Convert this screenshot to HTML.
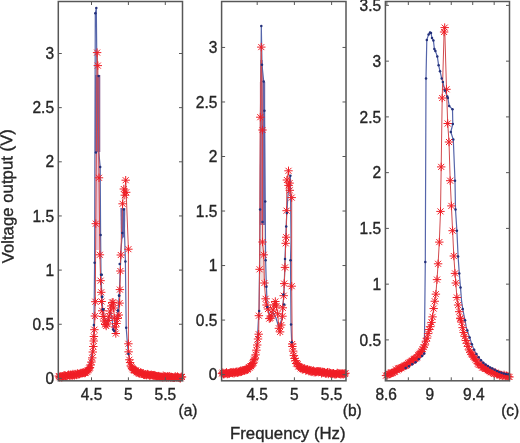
<!DOCTYPE html>
<html><head><meta charset="utf-8"><title>Voltage output vs frequency</title>
<style>
html,body{margin:0;padding:0;background:#fff;}
svg{display:block;}
text{font-family:"Liberation Sans",Arial,Helvetica,sans-serif;fill:#262626;stroke:#262626;stroke-width:0.35px;}
.t{font-size:15.5px;}
.al{font-size:16.8px;}
</style></head><body>
<svg width="520" height="443" viewBox="0 0 520 443">
<rect width="520" height="443" fill="#fff"/>
<g>
<g class="t">
<polygon fill="#6a68b0" points="120.4,208 125.3,208 125,236 120.9,240"/>
<polygon fill="#8e5e90" points="95,75 100.3,75 100.3,152 95,152"/>
<polygon fill="#ecc6d4" points="95.6,152 99.9,152 100.6,250 95.2,250"/>
<polyline fill="none" stroke="#5565aa" stroke-width="1.2" stroke-linejoin="round" points="58.8,376.5 59.79,376.43 60.78,376.35 61.77,376.25 62.77,376.15 63.76,376.03 64.75,375.91 65.74,375.78 66.73,375.64 67.72,375.49 68.71,375.34 69.71,375.18 70.7,375.02 71.69,374.85 72.68,374.69 73.67,374.53 74.66,374.37 75.65,374.21 76.65,374.05 77.64,373.87 78.63,373.66 79.62,373.44 80.61,373.18 81.6,372.88 82.59,372.54 83.59,372.15 84.58,371.71 85.57,371.09 86.56,369.86 87.55,368.06 88.54,365.79 89.53,363.18 90.53,360.28 91.52,356 92.51,350.9 93.5,345 94,325 94.6,262.7 95.3,13.3 96.3,8 96.8,60 97.6,100 98.8,152 100.2,166.9 100.6,235 101,274.7 101.9,296.9 102.7,309.2 104.5,318 106.5,322 108.5,318 110.5,312 112,318 113.1,329.6 115,325 118.1,310.8 119.2,295.8 121,250 122.3,233.1 123.8,209.6 125.4,261.5 126.2,327.7 127.5,345 128.4,354 128.6,354 129.61,360.52 130.62,365.13 131.62,366.61 132.63,367.72 133.64,368.6 134.65,369.28 135.65,369.82 136.66,370.24 137.67,370.59 138.68,370.91 139.68,371.2 140.69,371.46 141.7,371.7 142.71,371.92 143.71,372.12 144.72,372.3 145.73,372.46 146.74,372.61 147.74,372.74 148.75,372.87 149.76,372.98 150.77,373.08 151.77,373.18 152.78,373.28 153.79,373.38 154.8,373.48 155.8,373.57 156.81,373.66 157.82,373.76 158.83,373.85 159.83,373.93 160.84,374.02 161.85,374.1 162.86,374.18 163.86,374.26 164.87,374.33 165.88,374.4 166.89,374.47 167.89,374.53 168.9,374.59 169.91,374.65 170.92,374.7 171.92,374.75 172.93,374.8 173.94,374.84 174.95,374.88 175.95,374.91 176.96,374.94 177.97,374.96 178.98,374.98 179.98,374.99 180.99,375 182,375"/>
<polyline fill="none" stroke="#d24a4e" stroke-width="1" stroke-linejoin="round" points="58.8,376.04 59.54,377.21 60.28,376.5 61.03,376.92 61.77,377.29 62.51,376.4 63.25,376.24 64,375.36 64.74,375.62 65.48,375.93 66.22,376.16 66.96,376.28 67.71,375.42 68.45,374.74 69.19,375.04 69.93,376.05 70.68,374.69 71.42,375 72.16,375.75 72.9,374 73.64,374.92 74.39,375.43 75.13,374.01 75.87,374.46 76.61,374.98 77.36,373.45 78.1,374.01 78.84,374.28 79.58,373.99 80.32,373.48 81.07,372.86 81.81,373.22 82.55,372.85 83.29,372.87 84.04,372.47 84.78,373.09 85.52,372.68 86.26,371.51 87,371.53 87.75,370.42 88.49,369.97 89.23,368.61 89.97,367.56 90.72,365.02 91.46,362.01 92.2,357.89 92.8,352 93.3,346.5 93.7,341 93.9,336.5 94.4,329.7 94.9,316 95.3,301.7 95.8,223.7 97.1,52.6 97.8,65.6 99,177.8 99.9,254.8 100.6,280.7 101.2,292.3 101.6,301.5 102.2,310.8 103.2,316.5 104.2,321 105.2,324.5 106.2,326 107.2,324 108.2,320.5 109.2,316 110.2,311 111.2,306 112.2,302.5 113.1,302.3 113.7,308 114.3,318 115,327 115.8,333.5 116.5,323.5 117.6,318.5 118.8,315 119.6,303.1 119.9,289.6 120.4,271 120.8,255 122.6,203.8 123.8,189 124.8,195.2 125.7,180.2 126.2,192.3 128.4,249.2 128.4,343.8 128.6,351.84 129.35,359.77 130.1,362.55 130.86,366.06 131.61,367.05 132.36,368.28 133.11,369.61 133.86,370.13 134.62,370.5 135.37,370.22 136.12,370.78 136.87,372.23 137.63,372.2 138.38,372.79 139.13,373.52 139.88,373.26 140.63,372.35 141.39,373.02 142.14,373.72 142.89,373.26 143.64,374.75 144.39,374.89 145.15,374.89 145.9,374.38 146.65,375.21 147.4,374.08 148.15,374.55 148.91,374.96 149.66,375.58 150.41,375.23 151.16,374.71 151.92,375.18 152.67,375.24 153.42,375.29 154.17,375.13 154.92,375.66 155.68,375.8 156.43,376.47 157.18,376.58 157.93,376.16 158.68,376.11 159.44,376.75 160.19,377.01 160.94,376.69 161.69,376.98 162.45,377.29 163.2,375.73 163.95,377.29 164.7,376.27 165.45,376.68 166.21,377.31 166.96,377.21 167.71,376.23 168.46,377.2 169.21,376.18 169.97,376.74 170.72,377.6 171.47,376.95 172.22,377.29 172.97,377.56 173.73,377.77 174.48,377.69 175.23,376.37 175.98,377.15 176.74,377.25 177.49,376.55 178.24,377.45 178.99,377.6 179.74,378.02 180.5,378.25 181.25,376.81 182,377.01"/>
<path fill="none" stroke="#f01e26" stroke-width="1" d="M54.6 376.04h8.4M58.8 371.84v8.4M55.8 373.04l6 6M55.8 379.04l6 -6M55.34 377.21h8.4M59.54 373.01v8.4M56.54 374.21l6 6M56.54 380.21l6 -6M56.08 376.5h8.4M60.28 372.3v8.4M57.28 373.5l6 6M57.28 379.5l6 -6M56.83 376.92h8.4M61.03 372.72v8.4M58.03 373.92l6 6M58.03 379.92l6 -6M57.57 377.29h8.4M61.77 373.09v8.4M58.77 374.29l6 6M58.77 380.29l6 -6M58.31 376.4h8.4M62.51 372.2v8.4M59.51 373.4l6 6M59.51 379.4l6 -6M59.05 376.24h8.4M63.25 372.04v8.4M60.25 373.24l6 6M60.25 379.24l6 -6M59.8 375.36h8.4M64 371.16v8.4M61 372.36l6 6M61 378.36l6 -6M60.54 375.62h8.4M64.74 371.42v8.4M61.74 372.62l6 6M61.74 378.62l6 -6M61.28 375.93h8.4M65.48 371.73v8.4M62.48 372.93l6 6M62.48 378.93l6 -6M62.02 376.16h8.4M66.22 371.96v8.4M63.22 373.16l6 6M63.22 379.16l6 -6M62.76 376.28h8.4M66.96 372.08v8.4M63.96 373.28l6 6M63.96 379.28l6 -6M63.51 375.42h8.4M67.71 371.22v8.4M64.71 372.42l6 6M64.71 378.42l6 -6M64.25 374.74h8.4M68.45 370.54v8.4M65.45 371.74l6 6M65.45 377.74l6 -6M64.99 375.04h8.4M69.19 370.84v8.4M66.19 372.04l6 6M66.19 378.04l6 -6M65.73 376.05h8.4M69.93 371.85v8.4M66.93 373.05l6 6M66.93 379.05l6 -6M66.48 374.69h8.4M70.68 370.49v8.4M67.68 371.69l6 6M67.68 377.69l6 -6M67.22 375h8.4M71.42 370.8v8.4M68.42 372l6 6M68.42 378l6 -6M67.96 375.75h8.4M72.16 371.55v8.4M69.16 372.75l6 6M69.16 378.75l6 -6M68.7 374h8.4M72.9 369.8v8.4M69.9 371l6 6M69.9 377l6 -6M69.44 374.92h8.4M73.64 370.72v8.4M70.64 371.92l6 6M70.64 377.92l6 -6M70.19 375.43h8.4M74.39 371.23v8.4M71.39 372.43l6 6M71.39 378.43l6 -6M70.93 374.01h8.4M75.13 369.81v8.4M72.13 371.01l6 6M72.13 377.01l6 -6M71.67 374.46h8.4M75.87 370.26v8.4M72.87 371.46l6 6M72.87 377.46l6 -6M72.41 374.98h8.4M76.61 370.78v8.4M73.61 371.98l6 6M73.61 377.98l6 -6M73.16 373.45h8.4M77.36 369.25v8.4M74.36 370.45l6 6M74.36 376.45l6 -6M73.9 374.01h8.4M78.1 369.81v8.4M75.1 371.01l6 6M75.1 377.01l6 -6M74.64 374.28h8.4M78.84 370.08v8.4M75.84 371.28l6 6M75.84 377.28l6 -6M75.38 373.99h8.4M79.58 369.79v8.4M76.58 370.99l6 6M76.58 376.99l6 -6M76.12 373.48h8.4M80.32 369.28v8.4M77.32 370.48l6 6M77.32 376.48l6 -6M76.87 372.86h8.4M81.07 368.66v8.4M78.07 369.86l6 6M78.07 375.86l6 -6M77.61 373.22h8.4M81.81 369.02v8.4M78.81 370.22l6 6M78.81 376.22l6 -6M78.35 372.85h8.4M82.55 368.65v8.4M79.55 369.85l6 6M79.55 375.85l6 -6M79.09 372.87h8.4M83.29 368.67v8.4M80.29 369.87l6 6M80.29 375.87l6 -6M79.84 372.47h8.4M84.04 368.27v8.4M81.04 369.47l6 6M81.04 375.47l6 -6M80.58 373.09h8.4M84.78 368.89v8.4M81.78 370.09l6 6M81.78 376.09l6 -6M81.32 372.68h8.4M85.52 368.48v8.4M82.52 369.68l6 6M82.52 375.68l6 -6M82.06 371.51h8.4M86.26 367.31v8.4M83.26 368.51l6 6M83.26 374.51l6 -6M82.8 371.53h8.4M87 367.33v8.4M84 368.53l6 6M84 374.53l6 -6M83.55 370.42h8.4M87.75 366.22v8.4M84.75 367.42l6 6M84.75 373.42l6 -6M84.29 369.97h8.4M88.49 365.77v8.4M85.49 366.97l6 6M85.49 372.97l6 -6M85.03 368.61h8.4M89.23 364.41v8.4M86.23 365.61l6 6M86.23 371.61l6 -6M85.77 367.56h8.4M89.97 363.36v8.4M86.97 364.56l6 6M86.97 370.56l6 -6M86.52 365.02h8.4M90.72 360.82v8.4M87.72 362.02l6 6M87.72 368.02l6 -6M87.26 362.01h8.4M91.46 357.81v8.4M88.46 359.01l6 6M88.46 365.01l6 -6M88 357.89h8.4M92.2 353.69v8.4M89.2 354.89l6 6M89.2 360.89l6 -6M88.6 352h8.4M92.8 347.8v8.4M89.8 349l6 6M89.8 355l6 -6M89.1 346.5h8.4M93.3 342.3v8.4M90.3 343.5l6 6M90.3 349.5l6 -6M89.5 341h8.4M93.7 336.8v8.4M90.7 338l6 6M90.7 344l6 -6M89.7 336.5h8.4M93.9 332.3v8.4M90.9 333.5l6 6M90.9 339.5l6 -6M90.2 329.7h8.4M94.4 325.5v8.4M91.4 326.7l6 6M91.4 332.7l6 -6M90.7 316h8.4M94.9 311.8v8.4M91.9 313l6 6M91.9 319l6 -6M91.1 301.7h8.4M95.3 297.5v8.4M92.3 298.7l6 6M92.3 304.7l6 -6M91.6 223.7h8.4M95.8 219.5v8.4M92.8 220.7l6 6M92.8 226.7l6 -6M92.9 52.6h8.4M97.1 48.4v8.4M94.1 49.6l6 6M94.1 55.6l6 -6M93.6 65.6h8.4M97.8 61.4v8.4M94.8 62.6l6 6M94.8 68.6l6 -6M94.8 177.8h8.4M99 173.6v8.4M96 174.8l6 6M96 180.8l6 -6M95.7 254.8h8.4M99.9 250.6v8.4M96.9 251.8l6 6M96.9 257.8l6 -6M96.4 280.7h8.4M100.6 276.5v8.4M97.6 277.7l6 6M97.6 283.7l6 -6M97 292.3h8.4M101.2 288.1v8.4M98.2 289.3l6 6M98.2 295.3l6 -6M97.4 301.5h8.4M101.6 297.3v8.4M98.6 298.5l6 6M98.6 304.5l6 -6M98 310.8h8.4M102.2 306.6v8.4M99.2 307.8l6 6M99.2 313.8l6 -6M99 316.5h8.4M103.2 312.3v8.4M100.2 313.5l6 6M100.2 319.5l6 -6M100 321h8.4M104.2 316.8v8.4M101.2 318l6 6M101.2 324l6 -6M101 324.5h8.4M105.2 320.3v8.4M102.2 321.5l6 6M102.2 327.5l6 -6M102 326h8.4M106.2 321.8v8.4M103.2 323l6 6M103.2 329l6 -6M103 324h8.4M107.2 319.8v8.4M104.2 321l6 6M104.2 327l6 -6M104 320.5h8.4M108.2 316.3v8.4M105.2 317.5l6 6M105.2 323.5l6 -6M105 316h8.4M109.2 311.8v8.4M106.2 313l6 6M106.2 319l6 -6M106 311h8.4M110.2 306.8v8.4M107.2 308l6 6M107.2 314l6 -6M107 306h8.4M111.2 301.8v8.4M108.2 303l6 6M108.2 309l6 -6M108 302.5h8.4M112.2 298.3v8.4M109.2 299.5l6 6M109.2 305.5l6 -6M108.9 302.3h8.4M113.1 298.1v8.4M110.1 299.3l6 6M110.1 305.3l6 -6M109.5 308h8.4M113.7 303.8v8.4M110.7 305l6 6M110.7 311l6 -6M110.1 318h8.4M114.3 313.8v8.4M111.3 315l6 6M111.3 321l6 -6M110.8 327h8.4M115 322.8v8.4M112 324l6 6M112 330l6 -6M111.6 333.5h8.4M115.8 329.3v8.4M112.8 330.5l6 6M112.8 336.5l6 -6M112.3 323.5h8.4M116.5 319.3v8.4M113.5 320.5l6 6M113.5 326.5l6 -6M113.4 318.5h8.4M117.6 314.3v8.4M114.6 315.5l6 6M114.6 321.5l6 -6M114.6 315h8.4M118.8 310.8v8.4M115.8 312l6 6M115.8 318l6 -6M115.4 303.1h8.4M119.6 298.9v8.4M116.6 300.1l6 6M116.6 306.1l6 -6M115.7 289.6h8.4M119.9 285.4v8.4M116.9 286.6l6 6M116.9 292.6l6 -6M116.2 271h8.4M120.4 266.8v8.4M117.4 268l6 6M117.4 274l6 -6M116.6 255h8.4M120.8 250.8v8.4M117.8 252l6 6M117.8 258l6 -6M118.4 203.8h8.4M122.6 199.6v8.4M119.6 200.8l6 6M119.6 206.8l6 -6M119.6 189h8.4M123.8 184.8v8.4M120.8 186l6 6M120.8 192l6 -6M120.6 195.2h8.4M124.8 191v8.4M121.8 192.2l6 6M121.8 198.2l6 -6M121.5 180.2h8.4M125.7 176v8.4M122.7 177.2l6 6M122.7 183.2l6 -6M122 192.3h8.4M126.2 188.1v8.4M123.2 189.3l6 6M123.2 195.3l6 -6M124.2 249.2h8.4M128.4 245v8.4M125.4 246.2l6 6M125.4 252.2l6 -6M124.2 343.8h8.4M128.4 339.6v8.4M125.4 340.8l6 6M125.4 346.8l6 -6M124.4 351.84h8.4M128.6 347.64v8.4M125.6 348.84l6 6M125.6 354.84l6 -6M125.15 359.77h8.4M129.35 355.57v8.4M126.35 356.77l6 6M126.35 362.77l6 -6M125.9 362.55h8.4M130.1 358.35v8.4M127.1 359.55l6 6M127.1 365.55l6 -6M126.66 366.06h8.4M130.86 361.86v8.4M127.86 363.06l6 6M127.86 369.06l6 -6M127.41 367.05h8.4M131.61 362.85v8.4M128.61 364.05l6 6M128.61 370.05l6 -6M128.16 368.28h8.4M132.36 364.08v8.4M129.36 365.28l6 6M129.36 371.28l6 -6M128.91 369.61h8.4M133.11 365.41v8.4M130.11 366.61l6 6M130.11 372.61l6 -6M129.66 370.13h8.4M133.86 365.93v8.4M130.86 367.13l6 6M130.86 373.13l6 -6M130.42 370.5h8.4M134.62 366.3v8.4M131.62 367.5l6 6M131.62 373.5l6 -6M131.17 370.22h8.4M135.37 366.02v8.4M132.37 367.22l6 6M132.37 373.22l6 -6M131.92 370.78h8.4M136.12 366.58v8.4M133.12 367.78l6 6M133.12 373.78l6 -6M132.67 372.23h8.4M136.87 368.03v8.4M133.87 369.23l6 6M133.87 375.23l6 -6M133.43 372.2h8.4M137.63 368v8.4M134.63 369.2l6 6M134.63 375.2l6 -6M134.18 372.79h8.4M138.38 368.59v8.4M135.38 369.79l6 6M135.38 375.79l6 -6M134.93 373.52h8.4M139.13 369.32v8.4M136.13 370.52l6 6M136.13 376.52l6 -6M135.68 373.26h8.4M139.88 369.06v8.4M136.88 370.26l6 6M136.88 376.26l6 -6M136.43 372.35h8.4M140.63 368.15v8.4M137.63 369.35l6 6M137.63 375.35l6 -6M137.19 373.02h8.4M141.39 368.82v8.4M138.39 370.02l6 6M138.39 376.02l6 -6M137.94 373.72h8.4M142.14 369.52v8.4M139.14 370.72l6 6M139.14 376.72l6 -6M138.69 373.26h8.4M142.89 369.06v8.4M139.89 370.26l6 6M139.89 376.26l6 -6M139.44 374.75h8.4M143.64 370.55v8.4M140.64 371.75l6 6M140.64 377.75l6 -6M140.19 374.89h8.4M144.39 370.69v8.4M141.39 371.89l6 6M141.39 377.89l6 -6M140.95 374.89h8.4M145.15 370.69v8.4M142.15 371.89l6 6M142.15 377.89l6 -6M141.7 374.38h8.4M145.9 370.18v8.4M142.9 371.38l6 6M142.9 377.38l6 -6M142.45 375.21h8.4M146.65 371.01v8.4M143.65 372.21l6 6M143.65 378.21l6 -6M143.2 374.08h8.4M147.4 369.88v8.4M144.4 371.08l6 6M144.4 377.08l6 -6M143.95 374.55h8.4M148.15 370.35v8.4M145.15 371.55l6 6M145.15 377.55l6 -6M144.71 374.96h8.4M148.91 370.76v8.4M145.91 371.96l6 6M145.91 377.96l6 -6M145.46 375.58h8.4M149.66 371.38v8.4M146.66 372.58l6 6M146.66 378.58l6 -6M146.21 375.23h8.4M150.41 371.03v8.4M147.41 372.23l6 6M147.41 378.23l6 -6M146.96 374.71h8.4M151.16 370.51v8.4M148.16 371.71l6 6M148.16 377.71l6 -6M147.72 375.18h8.4M151.92 370.98v8.4M148.92 372.18l6 6M148.92 378.18l6 -6M148.47 375.24h8.4M152.67 371.04v8.4M149.67 372.24l6 6M149.67 378.24l6 -6M149.22 375.29h8.4M153.42 371.09v8.4M150.42 372.29l6 6M150.42 378.29l6 -6M149.97 375.13h8.4M154.17 370.93v8.4M151.17 372.13l6 6M151.17 378.13l6 -6M150.72 375.66h8.4M154.92 371.46v8.4M151.92 372.66l6 6M151.92 378.66l6 -6M151.48 375.8h8.4M155.68 371.6v8.4M152.68 372.8l6 6M152.68 378.8l6 -6M152.23 376.47h8.4M156.43 372.27v8.4M153.43 373.47l6 6M153.43 379.47l6 -6M152.98 376.58h8.4M157.18 372.38v8.4M154.18 373.58l6 6M154.18 379.58l6 -6M153.73 376.16h8.4M157.93 371.96v8.4M154.93 373.16l6 6M154.93 379.16l6 -6M154.48 376.11h8.4M158.68 371.91v8.4M155.68 373.11l6 6M155.68 379.11l6 -6M155.24 376.75h8.4M159.44 372.55v8.4M156.44 373.75l6 6M156.44 379.75l6 -6M155.99 377.01h8.4M160.19 372.81v8.4M157.19 374.01l6 6M157.19 380.01l6 -6M156.74 376.69h8.4M160.94 372.49v8.4M157.94 373.69l6 6M157.94 379.69l6 -6M157.49 376.98h8.4M161.69 372.78v8.4M158.69 373.98l6 6M158.69 379.98l6 -6M158.25 377.29h8.4M162.45 373.09v8.4M159.45 374.29l6 6M159.45 380.29l6 -6M159 375.73h8.4M163.2 371.53v8.4M160.2 372.73l6 6M160.2 378.73l6 -6M159.75 377.29h8.4M163.95 373.09v8.4M160.95 374.29l6 6M160.95 380.29l6 -6M160.5 376.27h8.4M164.7 372.07v8.4M161.7 373.27l6 6M161.7 379.27l6 -6M161.25 376.68h8.4M165.45 372.48v8.4M162.45 373.68l6 6M162.45 379.68l6 -6M162.01 377.31h8.4M166.21 373.11v8.4M163.21 374.31l6 6M163.21 380.31l6 -6M162.76 377.21h8.4M166.96 373.01v8.4M163.96 374.21l6 6M163.96 380.21l6 -6M163.51 376.23h8.4M167.71 372.03v8.4M164.71 373.23l6 6M164.71 379.23l6 -6M164.26 377.2h8.4M168.46 373v8.4M165.46 374.2l6 6M165.46 380.2l6 -6M165.01 376.18h8.4M169.21 371.98v8.4M166.21 373.18l6 6M166.21 379.18l6 -6M165.77 376.74h8.4M169.97 372.54v8.4M166.97 373.74l6 6M166.97 379.74l6 -6M166.52 377.6h8.4M170.72 373.4v8.4M167.72 374.6l6 6M167.72 380.6l6 -6M167.27 376.95h8.4M171.47 372.75v8.4M168.47 373.95l6 6M168.47 379.95l6 -6M168.02 377.29h8.4M172.22 373.09v8.4M169.22 374.29l6 6M169.22 380.29l6 -6M168.77 377.56h8.4M172.97 373.36v8.4M169.97 374.56l6 6M169.97 380.56l6 -6M169.53 377.77h8.4M173.73 373.57v8.4M170.73 374.77l6 6M170.73 380.77l6 -6M170.28 377.69h8.4M174.48 373.49v8.4M171.48 374.69l6 6M171.48 380.69l6 -6M171.03 376.37h8.4M175.23 372.17v8.4M172.23 373.37l6 6M172.23 379.37l6 -6M171.78 377.15h8.4M175.98 372.95v8.4M172.98 374.15l6 6M172.98 380.15l6 -6M172.54 377.25h8.4M176.74 373.05v8.4M173.74 374.25l6 6M173.74 380.25l6 -6M173.29 376.55h8.4M177.49 372.35v8.4M174.49 373.55l6 6M174.49 379.55l6 -6M174.04 377.45h8.4M178.24 373.25v8.4M175.24 374.45l6 6M175.24 380.45l6 -6M174.79 377.6h8.4M178.99 373.4v8.4M175.99 374.6l6 6M175.99 380.6l6 -6M175.54 378.02h8.4M179.74 373.82v8.4M176.74 375.02l6 6M176.74 381.02l6 -6M176.3 378.25h8.4M180.5 374.05v8.4M177.5 375.25l6 6M177.5 381.25l6 -6M177.05 376.81h8.4M181.25 372.61v8.4M178.25 373.81l6 6M178.25 379.81l6 -6M177.8 377.01h8.4M182 372.81v8.4M179 374.01l6 6M179 380.01l6 -6"/>
<g fill="#23307a"><circle cx="95.3" cy="13.3" r="1.25"/><circle cx="96.3" cy="8" r="1.25"/><circle cx="98.6" cy="76.1" r="1.25"/><circle cx="100.2" cy="166.9" r="1.25"/><circle cx="95.9" cy="152.6" r="1.25"/><circle cx="94.6" cy="262.7" r="1.25"/><circle cx="93.9" cy="324.9" r="1.25"/><circle cx="119.7" cy="263.9" r="1.25"/><circle cx="119" cy="295.5" r="1.25"/><circle cx="117.8" cy="310.6" r="1.25"/><circle cx="101.8" cy="274.7" r="1.25"/><circle cx="102.3" cy="296.7" r="1.25"/><circle cx="103.5" cy="309.4" r="1.25"/><circle cx="114.2" cy="330.9" r="1.25"/><circle cx="100.6" cy="235" r="1.25"/><circle cx="101" cy="274.7" r="1.25"/><circle cx="101.9" cy="296.9" r="1.25"/><circle cx="102.7" cy="309.2" r="1.25"/><circle cx="113.1" cy="329.6" r="1.25"/><circle cx="118.1" cy="310.8" r="1.25"/><circle cx="119.2" cy="295.8" r="1.25"/><circle cx="122.3" cy="233.1" r="1.25"/><circle cx="123.8" cy="209.6" r="1.25"/><circle cx="125.4" cy="261.5" r="1.25"/><circle cx="126.2" cy="327.7" r="1.25"/><circle cx="128.4" cy="354" r="1.25"/></g>
<rect x="58.3" y="1.5" width="124.2" height="379.3" fill="none" stroke="#575757" stroke-width="1.5"/>
<path fill="none" stroke="#575757" stroke-width="1" d="M58.3 378.4h3.5M182.5 378.4h-3.5M58.3 324.25h3.5M182.5 324.25h-3.5M58.3 270.1h3.5M182.5 270.1h-3.5M58.3 215.95h3.5M182.5 215.95h-3.5M58.3 161.8h3.5M182.5 161.8h-3.5M58.3 107.65h3.5M182.5 107.65h-3.5M58.3 53.5h3.5M182.5 53.5h-3.5M91.5 380.8v-3.5M91.5 1.5v3.5M128.4 380.8v-3.5M128.4 1.5v3.5M165.3 380.8v-3.5M165.3 1.5v3.5"/>
<text transform="translate(54,384) scale(1,1.02)" text-anchor="end">0</text>
<text transform="translate(54,329.85) scale(1,1.02)" text-anchor="end">0.5</text>
<text transform="translate(54,275.7) scale(1,1.02)" text-anchor="end">1</text>
<text transform="translate(54,221.55) scale(1,1.02)" text-anchor="end">1.5</text>
<text transform="translate(54,167.4) scale(1,1.02)" text-anchor="end">2</text>
<text transform="translate(54,113.25) scale(1,1.02)" text-anchor="end">2.5</text>
<text transform="translate(54,59.1) scale(1,1.02)" text-anchor="end">3</text>
<text transform="translate(91.5,399.9) scale(1,1.02)" text-anchor="middle">4.5</text>
<text transform="translate(128.4,399.9) scale(1,1.02)" text-anchor="middle">5</text>
<text transform="translate(165.3,399.9) scale(1,1.02)" text-anchor="middle">5.5</text>
<text transform="translate(178.6,416) scale(1,1.04)">(a)</text>
<polygon fill="#c46a8a" points="259.9,82 262.6,82 262.6,225 259.7,225"/>
<polygon fill="#7a6aa8" points="262.6,82 265.2,82 265.2,225 262.6,225"/>
<polygon fill="#b05a80" points="260.3,60 262.7,60 262.7,82 260.3,82"/>
<polygon fill="#f3dcd8" points="260.6,225 264.6,225 265,280 260.2,280"/>
<polyline fill="none" stroke="#5565aa" stroke-width="1.2" stroke-linejoin="round" points="222,372.5 223.01,372.49 224.02,372.47 225.03,372.44 226.04,372.39 227.06,372.33 228.07,372.25 229.08,372.17 230.09,372.07 231.1,371.96 232.11,371.84 233.12,371.7 234.13,371.56 235.14,371.4 236.16,371.24 237.17,371.07 238.18,370.88 239.19,370.69 240.2,370.49 241.21,370.28 242.22,370.06 243.23,369.82 244.24,369.53 245.26,369.16 246.27,368.72 247.28,368.19 248.29,367.56 249.3,366.83 250.31,365.99 251.32,365.02 252.33,363.93 253.34,362.52 254.36,360.05 255.37,356.31 256.38,351.13 257.39,339.14 258.4,320 259.1,310.9 260.1,209.5 261.3,26.1 262,64.7 263.7,81.6 264.4,110.7 265.2,201.5 265.6,260.2 266.4,286.7 267.3,307 270,316 273,312 276,318 279,328 282,318 283,305 284,294 285,259 286.2,226.4 286.8,213 288,195 290.4,175.8 291,240 290.5,260.2 291,324.6 291.7,342.3 293.4,352.4 294.4,357.3 295.4,361.2 296.41,362.74 297.41,363.81 298.41,364.73 299.41,365.5 300.41,366.14 301.42,366.67 302.42,367.11 303.42,367.49 304.42,367.8 305.42,368.08 306.42,368.34 307.43,368.59 308.43,368.82 309.43,369.05 310.43,369.26 311.43,369.47 312.44,369.66 313.44,369.84 314.44,370.02 315.44,370.18 316.44,370.34 317.45,370.48 318.45,370.62 319.45,370.75 320.45,370.88 321.45,370.99 322.46,371.1 323.46,371.2 324.46,371.3 325.46,371.39 326.46,371.47 327.47,371.55 328.47,371.62 329.47,371.69 330.47,371.76 331.47,371.82 332.48,371.89 333.48,371.95 334.48,372.01 335.48,372.07 336.48,372.12 337.48,372.17 338.49,372.22 339.49,372.26 340.49,372.3 341.49,372.33 342.49,372.36 343.5,372.38 344.5,372.39 345.5,372.4"/>
<polyline fill="none" stroke="#d24a4e" stroke-width="1" stroke-linejoin="round" points="222,373.58 222.75,372.66 223.5,374.14 224.24,374.09 224.99,373.12 225.74,373.4 226.49,372.37 227.23,374.05 227.98,373.7 228.73,373.33 229.48,373.51 230.23,372.44 230.97,372.6 231.72,372.44 232.47,373.01 233.22,372.05 233.97,373.42 234.71,372.55 235.46,372.4 236.21,371.66 236.96,372.56 237.7,372.64 238.45,372.13 239.2,371.24 239.95,372.03 240.7,370.67 241.44,371.69 242.19,371.03 242.94,370.29 243.69,370.46 244.43,370.41 245.18,369.46 245.93,370.2 246.68,369.09 247.43,369.54 248.17,369.01 248.92,367.19 249.67,367.56 250.42,366.21 251.17,366.14 251.91,364.77 252.66,363.49 253.41,362.9 254.16,359.59 254.9,358.26 255.65,354.83 256.4,350.16 257.2,345 258,339 258.7,334.2 258.9,315.7 259.6,269.3 260.3,117.2 261.3,47.1 262.5,130 262.5,242 263.7,254.8 264.4,283 265.6,298.8 266.5,305 268,309 269.3,318.6 270.5,318 271.7,316.2 273,310 274.2,305 275.3,301.5 276.5,306 277.7,313.8 278.9,328.3 280.1,331.9 281.3,325 282.5,316.2 282.8,307.8 283.7,295.7 284.2,283.6 285,267.4 285.7,243.3 286.2,237.2 286.6,210.7 286.9,180 288.5,170.8 289.6,183.1 288.5,185.4 289.8,190.3 291.7,197.6 291.7,286.2 292.2,344 292.4,346.46 293.15,351.12 293.9,355.59 294.64,358.48 295.39,360.69 296.14,363.53 296.89,363.26 297.64,364.23 298.38,366.34 299.13,366.42 299.88,366.97 300.63,368.36 301.37,367.77 302.12,369.14 302.87,369 303.62,368.71 304.37,368.47 305.11,369.03 305.86,370.54 306.61,369.73 307.36,369.49 308.11,369.92 308.85,371.18 309.6,370.03 310.35,371.29 311.1,370.29 311.85,371.92 312.59,371.29 313.34,370.54 314.09,372.27 314.84,371.36 315.58,372.15 316.33,371.88 317.08,371.21 317.83,371.33 318.58,371.51 319.32,371.62 320.07,371.52 320.82,371.6 321.57,373.3 322.32,371.84 323.06,372.67 323.81,372.05 324.56,372.29 325.31,373.35 326.05,373.73 326.8,372.95 327.55,372.17 328.3,374.01 329.05,372.35 329.79,373.01 330.54,373.33 331.29,374.01 332.04,373.93 332.79,373.59 333.53,373.25 334.28,374.08 335.03,374.18 335.78,374.23 336.53,373.99 337.27,372.91 338.02,373.31 338.77,373.68 339.52,373.74 340.26,374.36 341.01,373.32 341.76,374.11 342.51,373.61 343.26,374.35 344,373.33 344.75,373.85 345.5,373.19"/>
<path fill="none" stroke="#f01e26" stroke-width="1" d="M217.8 373.58h8.4M222 369.38v8.4M219 370.58l6 6M219 376.58l6 -6M218.55 372.66h8.4M222.75 368.46v8.4M219.75 369.66l6 6M219.75 375.66l6 -6M219.3 374.14h8.4M223.5 369.94v8.4M220.5 371.14l6 6M220.5 377.14l6 -6M220.04 374.09h8.4M224.24 369.89v8.4M221.24 371.09l6 6M221.24 377.09l6 -6M220.79 373.12h8.4M224.99 368.92v8.4M221.99 370.12l6 6M221.99 376.12l6 -6M221.54 373.4h8.4M225.74 369.2v8.4M222.74 370.4l6 6M222.74 376.4l6 -6M222.29 372.37h8.4M226.49 368.17v8.4M223.49 369.37l6 6M223.49 375.37l6 -6M223.03 374.05h8.4M227.23 369.85v8.4M224.23 371.05l6 6M224.23 377.05l6 -6M223.78 373.7h8.4M227.98 369.5v8.4M224.98 370.7l6 6M224.98 376.7l6 -6M224.53 373.33h8.4M228.73 369.13v8.4M225.73 370.33l6 6M225.73 376.33l6 -6M225.28 373.51h8.4M229.48 369.31v8.4M226.48 370.51l6 6M226.48 376.51l6 -6M226.03 372.44h8.4M230.23 368.24v8.4M227.23 369.44l6 6M227.23 375.44l6 -6M226.77 372.6h8.4M230.97 368.4v8.4M227.97 369.6l6 6M227.97 375.6l6 -6M227.52 372.44h8.4M231.72 368.24v8.4M228.72 369.44l6 6M228.72 375.44l6 -6M228.27 373.01h8.4M232.47 368.81v8.4M229.47 370.01l6 6M229.47 376.01l6 -6M229.02 372.05h8.4M233.22 367.85v8.4M230.22 369.05l6 6M230.22 375.05l6 -6M229.77 373.42h8.4M233.97 369.22v8.4M230.97 370.42l6 6M230.97 376.42l6 -6M230.51 372.55h8.4M234.71 368.35v8.4M231.71 369.55l6 6M231.71 375.55l6 -6M231.26 372.4h8.4M235.46 368.2v8.4M232.46 369.4l6 6M232.46 375.4l6 -6M232.01 371.66h8.4M236.21 367.46v8.4M233.21 368.66l6 6M233.21 374.66l6 -6M232.76 372.56h8.4M236.96 368.36v8.4M233.96 369.56l6 6M233.96 375.56l6 -6M233.5 372.64h8.4M237.7 368.44v8.4M234.7 369.64l6 6M234.7 375.64l6 -6M234.25 372.13h8.4M238.45 367.93v8.4M235.45 369.13l6 6M235.45 375.13l6 -6M235 371.24h8.4M239.2 367.04v8.4M236.2 368.24l6 6M236.2 374.24l6 -6M235.75 372.03h8.4M239.95 367.83v8.4M236.95 369.03l6 6M236.95 375.03l6 -6M236.5 370.67h8.4M240.7 366.47v8.4M237.7 367.67l6 6M237.7 373.67l6 -6M237.24 371.69h8.4M241.44 367.49v8.4M238.44 368.69l6 6M238.44 374.69l6 -6M237.99 371.03h8.4M242.19 366.83v8.4M239.19 368.03l6 6M239.19 374.03l6 -6M238.74 370.29h8.4M242.94 366.09v8.4M239.94 367.29l6 6M239.94 373.29l6 -6M239.49 370.46h8.4M243.69 366.26v8.4M240.69 367.46l6 6M240.69 373.46l6 -6M240.23 370.41h8.4M244.43 366.21v8.4M241.43 367.41l6 6M241.43 373.41l6 -6M240.98 369.46h8.4M245.18 365.26v8.4M242.18 366.46l6 6M242.18 372.46l6 -6M241.73 370.2h8.4M245.93 366v8.4M242.93 367.2l6 6M242.93 373.2l6 -6M242.48 369.09h8.4M246.68 364.89v8.4M243.68 366.09l6 6M243.68 372.09l6 -6M243.23 369.54h8.4M247.43 365.34v8.4M244.43 366.54l6 6M244.43 372.54l6 -6M243.97 369.01h8.4M248.17 364.81v8.4M245.17 366.01l6 6M245.17 372.01l6 -6M244.72 367.19h8.4M248.92 362.99v8.4M245.92 364.19l6 6M245.92 370.19l6 -6M245.47 367.56h8.4M249.67 363.36v8.4M246.67 364.56l6 6M246.67 370.56l6 -6M246.22 366.21h8.4M250.42 362.01v8.4M247.42 363.21l6 6M247.42 369.21l6 -6M246.97 366.14h8.4M251.17 361.94v8.4M248.17 363.14l6 6M248.17 369.14l6 -6M247.71 364.77h8.4M251.91 360.57v8.4M248.91 361.77l6 6M248.91 367.77l6 -6M248.46 363.49h8.4M252.66 359.29v8.4M249.66 360.49l6 6M249.66 366.49l6 -6M249.21 362.9h8.4M253.41 358.7v8.4M250.41 359.9l6 6M250.41 365.9l6 -6M249.96 359.59h8.4M254.16 355.39v8.4M251.16 356.59l6 6M251.16 362.59l6 -6M250.7 358.26h8.4M254.9 354.06v8.4M251.9 355.26l6 6M251.9 361.26l6 -6M251.45 354.83h8.4M255.65 350.63v8.4M252.65 351.83l6 6M252.65 357.83l6 -6M252.2 350.16h8.4M256.4 345.96v8.4M253.4 347.16l6 6M253.4 353.16l6 -6M253 345h8.4M257.2 340.8v8.4M254.2 342l6 6M254.2 348l6 -6M253.8 339h8.4M258 334.8v8.4M255 336l6 6M255 342l6 -6M254.5 334.2h8.4M258.7 330v8.4M255.7 331.2l6 6M255.7 337.2l6 -6M254.7 315.7h8.4M258.9 311.5v8.4M255.9 312.7l6 6M255.9 318.7l6 -6M255.4 269.3h8.4M259.6 265.1v8.4M256.6 266.3l6 6M256.6 272.3l6 -6M256.1 117.2h8.4M260.3 113v8.4M257.3 114.2l6 6M257.3 120.2l6 -6M257.1 47.1h8.4M261.3 42.9v8.4M258.3 44.1l6 6M258.3 50.1l6 -6M258.3 130h8.4M262.5 125.8v8.4M259.5 127l6 6M259.5 133l6 -6M258.3 242h8.4M262.5 237.8v8.4M259.5 239l6 6M259.5 245l6 -6M259.5 254.8h8.4M263.7 250.6v8.4M260.7 251.8l6 6M260.7 257.8l6 -6M260.2 283h8.4M264.4 278.8v8.4M261.4 280l6 6M261.4 286l6 -6M261.4 298.8h8.4M265.6 294.6v8.4M262.6 295.8l6 6M262.6 301.8l6 -6M262.3 305h8.4M266.5 300.8v8.4M263.5 302l6 6M263.5 308l6 -6M263.8 309h8.4M268 304.8v8.4M265 306l6 6M265 312l6 -6M265.1 318.6h8.4M269.3 314.4v8.4M266.3 315.6l6 6M266.3 321.6l6 -6M266.3 318h8.4M270.5 313.8v8.4M267.5 315l6 6M267.5 321l6 -6M267.5 316.2h8.4M271.7 312v8.4M268.7 313.2l6 6M268.7 319.2l6 -6M268.8 310h8.4M273 305.8v8.4M270 307l6 6M270 313l6 -6M270 305h8.4M274.2 300.8v8.4M271.2 302l6 6M271.2 308l6 -6M271.1 301.5h8.4M275.3 297.3v8.4M272.3 298.5l6 6M272.3 304.5l6 -6M272.3 306h8.4M276.5 301.8v8.4M273.5 303l6 6M273.5 309l6 -6M273.5 313.8h8.4M277.7 309.6v8.4M274.7 310.8l6 6M274.7 316.8l6 -6M274.7 328.3h8.4M278.9 324.1v8.4M275.9 325.3l6 6M275.9 331.3l6 -6M275.9 331.9h8.4M280.1 327.7v8.4M277.1 328.9l6 6M277.1 334.9l6 -6M277.1 325h8.4M281.3 320.8v8.4M278.3 322l6 6M278.3 328l6 -6M278.3 316.2h8.4M282.5 312v8.4M279.5 313.2l6 6M279.5 319.2l6 -6M278.6 307.8h8.4M282.8 303.6v8.4M279.8 304.8l6 6M279.8 310.8l6 -6M279.5 295.7h8.4M283.7 291.5v8.4M280.7 292.7l6 6M280.7 298.7l6 -6M280 283.6h8.4M284.2 279.4v8.4M281.2 280.6l6 6M281.2 286.6l6 -6M280.8 267.4h8.4M285 263.2v8.4M282 264.4l6 6M282 270.4l6 -6M281.5 243.3h8.4M285.7 239.1v8.4M282.7 240.3l6 6M282.7 246.3l6 -6M282 237.2h8.4M286.2 233v8.4M283.2 234.2l6 6M283.2 240.2l6 -6M282.4 210.7h8.4M286.6 206.5v8.4M283.6 207.7l6 6M283.6 213.7l6 -6M282.7 180h8.4M286.9 175.8v8.4M283.9 177l6 6M283.9 183l6 -6M284.3 170.8h8.4M288.5 166.6v8.4M285.5 167.8l6 6M285.5 173.8l6 -6M285.4 183.1h8.4M289.6 178.9v8.4M286.6 180.1l6 6M286.6 186.1l6 -6M284.3 185.4h8.4M288.5 181.2v8.4M285.5 182.4l6 6M285.5 188.4l6 -6M285.6 190.3h8.4M289.8 186.1v8.4M286.8 187.3l6 6M286.8 193.3l6 -6M287.5 197.6h8.4M291.7 193.4v8.4M288.7 194.6l6 6M288.7 200.6l6 -6M287.5 286.2h8.4M291.7 282v8.4M288.7 283.2l6 6M288.7 289.2l6 -6M288 344h8.4M292.2 339.8v8.4M289.2 341l6 6M289.2 347l6 -6M288.2 346.46h8.4M292.4 342.26v8.4M289.4 343.46l6 6M289.4 349.46l6 -6M288.95 351.12h8.4M293.15 346.92v8.4M290.15 348.12l6 6M290.15 354.12l6 -6M289.7 355.59h8.4M293.9 351.39v8.4M290.9 352.59l6 6M290.9 358.59l6 -6M290.44 358.48h8.4M294.64 354.28v8.4M291.64 355.48l6 6M291.64 361.48l6 -6M291.19 360.69h8.4M295.39 356.49v8.4M292.39 357.69l6 6M292.39 363.69l6 -6M291.94 363.53h8.4M296.14 359.33v8.4M293.14 360.53l6 6M293.14 366.53l6 -6M292.69 363.26h8.4M296.89 359.06v8.4M293.89 360.26l6 6M293.89 366.26l6 -6M293.44 364.23h8.4M297.64 360.03v8.4M294.64 361.23l6 6M294.64 367.23l6 -6M294.18 366.34h8.4M298.38 362.14v8.4M295.38 363.34l6 6M295.38 369.34l6 -6M294.93 366.42h8.4M299.13 362.22v8.4M296.13 363.42l6 6M296.13 369.42l6 -6M295.68 366.97h8.4M299.88 362.77v8.4M296.88 363.97l6 6M296.88 369.97l6 -6M296.43 368.36h8.4M300.63 364.16v8.4M297.63 365.36l6 6M297.63 371.36l6 -6M297.17 367.77h8.4M301.37 363.57v8.4M298.37 364.77l6 6M298.37 370.77l6 -6M297.92 369.14h8.4M302.12 364.94v8.4M299.12 366.14l6 6M299.12 372.14l6 -6M298.67 369h8.4M302.87 364.8v8.4M299.87 366l6 6M299.87 372l6 -6M299.42 368.71h8.4M303.62 364.51v8.4M300.62 365.71l6 6M300.62 371.71l6 -6M300.17 368.47h8.4M304.37 364.27v8.4M301.37 365.47l6 6M301.37 371.47l6 -6M300.91 369.03h8.4M305.11 364.83v8.4M302.11 366.03l6 6M302.11 372.03l6 -6M301.66 370.54h8.4M305.86 366.34v8.4M302.86 367.54l6 6M302.86 373.54l6 -6M302.41 369.73h8.4M306.61 365.53v8.4M303.61 366.73l6 6M303.61 372.73l6 -6M303.16 369.49h8.4M307.36 365.29v8.4M304.36 366.49l6 6M304.36 372.49l6 -6M303.91 369.92h8.4M308.11 365.72v8.4M305.11 366.92l6 6M305.11 372.92l6 -6M304.65 371.18h8.4M308.85 366.98v8.4M305.85 368.18l6 6M305.85 374.18l6 -6M305.4 370.03h8.4M309.6 365.83v8.4M306.6 367.03l6 6M306.6 373.03l6 -6M306.15 371.29h8.4M310.35 367.09v8.4M307.35 368.29l6 6M307.35 374.29l6 -6M306.9 370.29h8.4M311.1 366.09v8.4M308.1 367.29l6 6M308.1 373.29l6 -6M307.65 371.92h8.4M311.85 367.72v8.4M308.85 368.92l6 6M308.85 374.92l6 -6M308.39 371.29h8.4M312.59 367.09v8.4M309.59 368.29l6 6M309.59 374.29l6 -6M309.14 370.54h8.4M313.34 366.34v8.4M310.34 367.54l6 6M310.34 373.54l6 -6M309.89 372.27h8.4M314.09 368.07v8.4M311.09 369.27l6 6M311.09 375.27l6 -6M310.64 371.36h8.4M314.84 367.16v8.4M311.84 368.36l6 6M311.84 374.36l6 -6M311.38 372.15h8.4M315.58 367.95v8.4M312.58 369.15l6 6M312.58 375.15l6 -6M312.13 371.88h8.4M316.33 367.68v8.4M313.33 368.88l6 6M313.33 374.88l6 -6M312.88 371.21h8.4M317.08 367.01v8.4M314.08 368.21l6 6M314.08 374.21l6 -6M313.63 371.33h8.4M317.83 367.13v8.4M314.83 368.33l6 6M314.83 374.33l6 -6M314.38 371.51h8.4M318.58 367.31v8.4M315.58 368.51l6 6M315.58 374.51l6 -6M315.12 371.62h8.4M319.32 367.42v8.4M316.32 368.62l6 6M316.32 374.62l6 -6M315.87 371.52h8.4M320.07 367.32v8.4M317.07 368.52l6 6M317.07 374.52l6 -6M316.62 371.6h8.4M320.82 367.4v8.4M317.82 368.6l6 6M317.82 374.6l6 -6M317.37 373.3h8.4M321.57 369.1v8.4M318.57 370.3l6 6M318.57 376.3l6 -6M318.12 371.84h8.4M322.32 367.64v8.4M319.32 368.84l6 6M319.32 374.84l6 -6M318.86 372.67h8.4M323.06 368.47v8.4M320.06 369.67l6 6M320.06 375.67l6 -6M319.61 372.05h8.4M323.81 367.85v8.4M320.81 369.05l6 6M320.81 375.05l6 -6M320.36 372.29h8.4M324.56 368.09v8.4M321.56 369.29l6 6M321.56 375.29l6 -6M321.11 373.35h8.4M325.31 369.15v8.4M322.31 370.35l6 6M322.31 376.35l6 -6M321.85 373.73h8.4M326.05 369.53v8.4M323.05 370.73l6 6M323.05 376.73l6 -6M322.6 372.95h8.4M326.8 368.75v8.4M323.8 369.95l6 6M323.8 375.95l6 -6M323.35 372.17h8.4M327.55 367.97v8.4M324.55 369.17l6 6M324.55 375.17l6 -6M324.1 374.01h8.4M328.3 369.81v8.4M325.3 371.01l6 6M325.3 377.01l6 -6M324.85 372.35h8.4M329.05 368.15v8.4M326.05 369.35l6 6M326.05 375.35l6 -6M325.59 373.01h8.4M329.79 368.81v8.4M326.79 370.01l6 6M326.79 376.01l6 -6M326.34 373.33h8.4M330.54 369.13v8.4M327.54 370.33l6 6M327.54 376.33l6 -6M327.09 374.01h8.4M331.29 369.81v8.4M328.29 371.01l6 6M328.29 377.01l6 -6M327.84 373.93h8.4M332.04 369.73v8.4M329.04 370.93l6 6M329.04 376.93l6 -6M328.59 373.59h8.4M332.79 369.39v8.4M329.79 370.59l6 6M329.79 376.59l6 -6M329.33 373.25h8.4M333.53 369.05v8.4M330.53 370.25l6 6M330.53 376.25l6 -6M330.08 374.08h8.4M334.28 369.88v8.4M331.28 371.08l6 6M331.28 377.08l6 -6M330.83 374.18h8.4M335.03 369.98v8.4M332.03 371.18l6 6M332.03 377.18l6 -6M331.58 374.23h8.4M335.78 370.03v8.4M332.78 371.23l6 6M332.78 377.23l6 -6M332.33 373.99h8.4M336.53 369.79v8.4M333.53 370.99l6 6M333.53 376.99l6 -6M333.07 372.91h8.4M337.27 368.71v8.4M334.27 369.91l6 6M334.27 375.91l6 -6M333.82 373.31h8.4M338.02 369.11v8.4M335.02 370.31l6 6M335.02 376.31l6 -6M334.57 373.68h8.4M338.77 369.48v8.4M335.77 370.68l6 6M335.77 376.68l6 -6M335.32 373.74h8.4M339.52 369.54v8.4M336.52 370.74l6 6M336.52 376.74l6 -6M336.06 374.36h8.4M340.26 370.16v8.4M337.26 371.36l6 6M337.26 377.36l6 -6M336.81 373.32h8.4M341.01 369.12v8.4M338.01 370.32l6 6M338.01 376.32l6 -6M337.56 374.11h8.4M341.76 369.91v8.4M338.76 371.11l6 6M338.76 377.11l6 -6M338.31 373.61h8.4M342.51 369.41v8.4M339.51 370.61l6 6M339.51 376.61l6 -6M339.06 374.35h8.4M343.26 370.15v8.4M340.26 371.35l6 6M340.26 377.35l6 -6M339.8 373.33h8.4M344 369.13v8.4M341 370.33l6 6M341 376.33l6 -6M340.55 373.85h8.4M344.75 369.65v8.4M341.75 370.85l6 6M341.75 376.85l6 -6M341.3 373.19h8.4M345.5 368.99v8.4M342.5 370.19l6 6M342.5 376.19l6 -6"/>
<g fill="#23307a"><circle cx="259.1" cy="310.9" r="1.25"/><circle cx="260.1" cy="209.5" r="1.25"/><circle cx="261.3" cy="26.1" r="1.25"/><circle cx="262" cy="64.7" r="1.25"/><circle cx="263.7" cy="81.6" r="1.25"/><circle cx="264.4" cy="110.7" r="1.25"/><circle cx="265.2" cy="201.5" r="1.25"/><circle cx="265.6" cy="260.2" r="1.25"/><circle cx="266.4" cy="286.7" r="1.25"/><circle cx="267.3" cy="307" r="1.25"/><circle cx="262.5" cy="222" r="1.25"/><circle cx="284.2" cy="304.6" r="1.25"/><circle cx="283.3" cy="294.5" r="1.25"/><circle cx="285" cy="259" r="1.25"/><circle cx="286.2" cy="226.4" r="1.25"/><circle cx="286.8" cy="213" r="1.25"/><circle cx="290.4" cy="175.8" r="1.25"/><circle cx="290.5" cy="260.2" r="1.25"/><circle cx="291" cy="324.6" r="1.25"/><circle cx="291.7" cy="342.3" r="1.25"/></g>
<rect x="221.6" y="1.5" width="124.4" height="379.3" fill="none" stroke="#575757" stroke-width="1.5"/>
<path fill="none" stroke="#575757" stroke-width="1" d="M221.6 374.6h3.5M346 374.6h-3.5M221.6 320.08h3.5M346 320.08h-3.5M221.6 265.55h3.5M346 265.55h-3.5M221.6 211.03h3.5M346 211.03h-3.5M221.6 156.5h3.5M346 156.5h-3.5M221.6 101.98h3.5M346 101.98h-3.5M221.6 47.45h3.5M346 47.45h-3.5M257.2 380.8v-3.5M257.2 1.5v3.5M294.4 380.8v-3.5M294.4 1.5v3.5M331.6 380.8v-3.5M331.6 1.5v3.5"/>
<text transform="translate(217.3,380.2) scale(1,1.02)" text-anchor="end">0</text>
<text transform="translate(217.3,325.68) scale(1,1.02)" text-anchor="end">0.5</text>
<text transform="translate(217.3,271.15) scale(1,1.02)" text-anchor="end">1</text>
<text transform="translate(217.3,216.63) scale(1,1.02)" text-anchor="end">1.5</text>
<text transform="translate(217.3,162.1) scale(1,1.02)" text-anchor="end">2</text>
<text transform="translate(217.3,107.58) scale(1,1.02)" text-anchor="end">2.5</text>
<text transform="translate(217.3,53.05) scale(1,1.02)" text-anchor="end">3</text>
<text transform="translate(257.2,399.9) scale(1,1.02)" text-anchor="middle">4.5</text>
<text transform="translate(294.4,399.9) scale(1,1.02)" text-anchor="middle">5</text>
<text transform="translate(331.6,399.9) scale(1,1.02)" text-anchor="middle">5.5</text>
<text transform="translate(342.8,416) scale(1,1.04)">(b)</text>
<polyline fill="none" stroke="#5565aa" stroke-width="1.2" stroke-linejoin="round" points="386,376.2 387.09,375.83 388.19,375.45 389.28,375.06 390.38,374.66 391.47,374.26 392.57,373.85 393.66,373.44 394.75,373.02 395.85,372.6 396.94,372.16 398.04,371.72 399.13,371.26 400.23,370.78 401.32,370.28 402.41,369.75 403.51,369.21 404.6,368.64 405.7,368.06 406.79,367.47 407.89,366.86 408.98,366.25 410.07,365.64 411.17,365.01 412.26,364.37 413.36,363.69 414.45,362.96 415.55,362.19 416.64,361.34 417.73,360.4 418.83,359.37 419.92,358.3 421.02,357.19 422.11,356.03 423.21,354.8 424.3,353.5 425.3,262.1 426,78.4 426.8,39.9 428.6,34.6 430,32.6 431,33.1 432,38 433.4,40.4 434.4,49.1 435.4,51.1 437.3,56.4 438.6,65.2 440,71.2 441.7,78.4 442.9,82 444.8,90.5 447.3,96.5 447.9,98 449.2,106 452.5,109.3 452.8,124 450.8,132 453.3,139.6 455,180.7 455.5,209.5 456.9,230.7 458.1,256.5 459.3,273.4 460.5,287.4 461.64,301.69 462.78,308.97 463.92,315.07 465.06,320.34 466.2,326.97 467.34,330.56 468.48,333.99 469.62,337.46 470.76,340.89 471.9,344.34 473.03,347.31 474.17,349.78 475.31,352 476.45,353.98 477.59,355.74 478.73,357.35 479.87,358.88 481.01,360.29 482.15,361.58 483.29,362.74 484.43,363.74 485.57,364.62 486.71,365.4 487.85,366.12 488.99,366.78 490.13,367.4 491.27,368 492.41,368.59 493.55,369.19 494.69,369.8 495.83,370.39 496.97,370.96 498.1,371.49 499.24,371.98 500.38,372.4 501.52,372.76 502.66,373.09 503.8,373.4 504.94,373.69 506.08,373.95 507.22,374.17 508.36,374.36 509.5,374.5"/>
<polyline fill="none" stroke="#d24a4e" stroke-width="1" stroke-linejoin="round" points="386,375.6 387.11,375.1 388.22,373.45 389.33,373.82 390.43,373.74 391.54,373.17 392.65,372.69 393.76,372.12 394.87,371.65 395.98,369.45 397.09,370.45 398.2,368.72 399.3,368.25 400.41,367.94 401.52,368.27 402.63,367.06 403.74,366.02 404.85,365.45 405.96,365.77 407.07,364.96 408.17,363.04 409.28,362.5 410.39,361.94 411.5,360.83 412.61,360.6 413.72,359.09 414.83,358.78 415.93,358.48 417.04,357.32 418.15,354.9 419.26,353.88 420.37,352.8 421.48,351.47 422.59,349.15 423.7,347.13 424.8,344.97 425.91,341.16 427.02,338.09 428.13,333.6 429.24,329.52 430.35,326.67 431.46,322.4 432.57,316.86 433.67,308.57 434.78,301.25 435.89,294.15 437,279.61 438.1,263.8 439.3,242.1 440.5,211.4 441.2,166.9 442.2,98 444.1,32 444.7,27.6 446.5,89.3 447.7,123.5 449,142 450.2,180.7 451.4,205.9 452.6,230.7 453.8,256 455,273.4 455.8,283 456.9,297.5 458.1,305 459.2,311.7 460.4,318.1 460.4,318.69 461.49,322.11 462.58,327.65 463.67,332.47 464.76,336.35 465.86,340.55 466.95,343.24 468.04,346.41 469.13,349.97 470.22,352.09 471.31,354.22 472.4,355 473.49,356.83 474.58,358.1 475.68,359.66 476.77,360.99 477.86,363.75 478.95,364.73 480.04,364.48 481.13,365.46 482.22,367.54 483.31,367.59 484.4,367.93 485.5,368.76 486.59,369.03 487.68,370.17 488.77,370.99 489.86,371.16 490.95,372.23 492.04,371.45 493.13,372.79 494.22,373.91 495.32,372.77 496.41,373.74 497.5,374.31 498.59,374.08 499.68,375.49 500.77,374.91 501.86,375.18 502.95,376.21 504.04,374.87 505.14,376.66 506.23,375.59 507.32,376.29 508.41,376.73 509.5,376.96"/>
<path fill="none" stroke="#f01e26" stroke-width="1" d="M381.8 375.6h8.4M386 371.4v8.4M383 372.6l6 6M383 378.6l6 -6M382.91 375.1h8.4M387.11 370.9v8.4M384.11 372.1l6 6M384.11 378.1l6 -6M384.02 373.45h8.4M388.22 369.25v8.4M385.22 370.45l6 6M385.22 376.45l6 -6M385.13 373.82h8.4M389.33 369.62v8.4M386.33 370.82l6 6M386.33 376.82l6 -6M386.23 373.74h8.4M390.43 369.54v8.4M387.43 370.74l6 6M387.43 376.74l6 -6M387.34 373.17h8.4M391.54 368.97v8.4M388.54 370.17l6 6M388.54 376.17l6 -6M388.45 372.69h8.4M392.65 368.49v8.4M389.65 369.69l6 6M389.65 375.69l6 -6M389.56 372.12h8.4M393.76 367.92v8.4M390.76 369.12l6 6M390.76 375.12l6 -6M390.67 371.65h8.4M394.87 367.45v8.4M391.87 368.65l6 6M391.87 374.65l6 -6M391.78 369.45h8.4M395.98 365.25v8.4M392.98 366.45l6 6M392.98 372.45l6 -6M392.89 370.45h8.4M397.09 366.25v8.4M394.09 367.45l6 6M394.09 373.45l6 -6M394 368.72h8.4M398.2 364.52v8.4M395.2 365.72l6 6M395.2 371.72l6 -6M395.1 368.25h8.4M399.3 364.05v8.4M396.3 365.25l6 6M396.3 371.25l6 -6M396.21 367.94h8.4M400.41 363.74v8.4M397.41 364.94l6 6M397.41 370.94l6 -6M397.32 368.27h8.4M401.52 364.07v8.4M398.52 365.27l6 6M398.52 371.27l6 -6M398.43 367.06h8.4M402.63 362.86v8.4M399.63 364.06l6 6M399.63 370.06l6 -6M399.54 366.02h8.4M403.74 361.82v8.4M400.74 363.02l6 6M400.74 369.02l6 -6M400.65 365.45h8.4M404.85 361.25v8.4M401.85 362.45l6 6M401.85 368.45l6 -6M401.76 365.77h8.4M405.96 361.57v8.4M402.96 362.77l6 6M402.96 368.77l6 -6M402.87 364.96h8.4M407.07 360.76v8.4M404.07 361.96l6 6M404.07 367.96l6 -6M403.97 363.04h8.4M408.17 358.84v8.4M405.17 360.04l6 6M405.17 366.04l6 -6M405.08 362.5h8.4M409.28 358.3v8.4M406.28 359.5l6 6M406.28 365.5l6 -6M406.19 361.94h8.4M410.39 357.74v8.4M407.39 358.94l6 6M407.39 364.94l6 -6M407.3 360.83h8.4M411.5 356.63v8.4M408.5 357.83l6 6M408.5 363.83l6 -6M408.41 360.6h8.4M412.61 356.4v8.4M409.61 357.6l6 6M409.61 363.6l6 -6M409.52 359.09h8.4M413.72 354.89v8.4M410.72 356.09l6 6M410.72 362.09l6 -6M410.63 358.78h8.4M414.83 354.58v8.4M411.83 355.78l6 6M411.83 361.78l6 -6M411.73 358.48h8.4M415.93 354.28v8.4M412.93 355.48l6 6M412.93 361.48l6 -6M412.84 357.32h8.4M417.04 353.12v8.4M414.04 354.32l6 6M414.04 360.32l6 -6M413.95 354.9h8.4M418.15 350.7v8.4M415.15 351.9l6 6M415.15 357.9l6 -6M415.06 353.88h8.4M419.26 349.68v8.4M416.26 350.88l6 6M416.26 356.88l6 -6M416.17 352.8h8.4M420.37 348.6v8.4M417.37 349.8l6 6M417.37 355.8l6 -6M417.28 351.47h8.4M421.48 347.27v8.4M418.48 348.47l6 6M418.48 354.47l6 -6M418.39 349.15h8.4M422.59 344.95v8.4M419.59 346.15l6 6M419.59 352.15l6 -6M419.5 347.13h8.4M423.7 342.93v8.4M420.7 344.13l6 6M420.7 350.13l6 -6M420.6 344.97h8.4M424.8 340.77v8.4M421.8 341.97l6 6M421.8 347.97l6 -6M421.71 341.16h8.4M425.91 336.96v8.4M422.91 338.16l6 6M422.91 344.16l6 -6M422.82 338.09h8.4M427.02 333.89v8.4M424.02 335.09l6 6M424.02 341.09l6 -6M423.93 333.6h8.4M428.13 329.4v8.4M425.13 330.6l6 6M425.13 336.6l6 -6M425.04 329.52h8.4M429.24 325.32v8.4M426.24 326.52l6 6M426.24 332.52l6 -6M426.15 326.67h8.4M430.35 322.47v8.4M427.35 323.67l6 6M427.35 329.67l6 -6M427.26 322.4h8.4M431.46 318.2v8.4M428.46 319.4l6 6M428.46 325.4l6 -6M428.37 316.86h8.4M432.57 312.66v8.4M429.57 313.86l6 6M429.57 319.86l6 -6M429.47 308.57h8.4M433.67 304.37v8.4M430.67 305.57l6 6M430.67 311.57l6 -6M430.58 301.25h8.4M434.78 297.05v8.4M431.78 298.25l6 6M431.78 304.25l6 -6M431.69 294.15h8.4M435.89 289.95v8.4M432.89 291.15l6 6M432.89 297.15l6 -6M432.8 279.61h8.4M437 275.41v8.4M434 276.61l6 6M434 282.61l6 -6M433.9 263.8h8.4M438.1 259.6v8.4M435.1 260.8l6 6M435.1 266.8l6 -6M435.1 242.1h8.4M439.3 237.9v8.4M436.3 239.1l6 6M436.3 245.1l6 -6M436.3 211.4h8.4M440.5 207.2v8.4M437.5 208.4l6 6M437.5 214.4l6 -6M437 166.9h8.4M441.2 162.7v8.4M438.2 163.9l6 6M438.2 169.9l6 -6M438 98h8.4M442.2 93.8v8.4M439.2 95l6 6M439.2 101l6 -6M439.9 32h8.4M444.1 27.8v8.4M441.1 29l6 6M441.1 35l6 -6M440.5 27.6h8.4M444.7 23.4v8.4M441.7 24.6l6 6M441.7 30.6l6 -6M442.3 89.3h8.4M446.5 85.1v8.4M443.5 86.3l6 6M443.5 92.3l6 -6M443.5 123.5h8.4M447.7 119.3v8.4M444.7 120.5l6 6M444.7 126.5l6 -6M444.8 142h8.4M449 137.8v8.4M446 139l6 6M446 145l6 -6M446 180.7h8.4M450.2 176.5v8.4M447.2 177.7l6 6M447.2 183.7l6 -6M447.2 205.9h8.4M451.4 201.7v8.4M448.4 202.9l6 6M448.4 208.9l6 -6M448.4 230.7h8.4M452.6 226.5v8.4M449.6 227.7l6 6M449.6 233.7l6 -6M449.6 256h8.4M453.8 251.8v8.4M450.8 253l6 6M450.8 259l6 -6M450.8 273.4h8.4M455 269.2v8.4M452 270.4l6 6M452 276.4l6 -6M451.6 283h8.4M455.8 278.8v8.4M452.8 280l6 6M452.8 286l6 -6M452.7 297.5h8.4M456.9 293.3v8.4M453.9 294.5l6 6M453.9 300.5l6 -6M453.9 305h8.4M458.1 300.8v8.4M455.1 302l6 6M455.1 308l6 -6M455 311.7h8.4M459.2 307.5v8.4M456.2 308.7l6 6M456.2 314.7l6 -6M456.2 318.1h8.4M460.4 313.9v8.4M457.4 315.1l6 6M457.4 321.1l6 -6M456.2 318.69h8.4M460.4 314.49v8.4M457.4 315.69l6 6M457.4 321.69l6 -6M457.29 322.11h8.4M461.49 317.91v8.4M458.49 319.11l6 6M458.49 325.11l6 -6M458.38 327.65h8.4M462.58 323.45v8.4M459.58 324.65l6 6M459.58 330.65l6 -6M459.47 332.47h8.4M463.67 328.27v8.4M460.67 329.47l6 6M460.67 335.47l6 -6M460.56 336.35h8.4M464.76 332.15v8.4M461.76 333.35l6 6M461.76 339.35l6 -6M461.66 340.55h8.4M465.86 336.35v8.4M462.86 337.55l6 6M462.86 343.55l6 -6M462.75 343.24h8.4M466.95 339.04v8.4M463.95 340.24l6 6M463.95 346.24l6 -6M463.84 346.41h8.4M468.04 342.21v8.4M465.04 343.41l6 6M465.04 349.41l6 -6M464.93 349.97h8.4M469.13 345.77v8.4M466.13 346.97l6 6M466.13 352.97l6 -6M466.02 352.09h8.4M470.22 347.89v8.4M467.22 349.09l6 6M467.22 355.09l6 -6M467.11 354.22h8.4M471.31 350.02v8.4M468.31 351.22l6 6M468.31 357.22l6 -6M468.2 355h8.4M472.4 350.8v8.4M469.4 352l6 6M469.4 358l6 -6M469.29 356.83h8.4M473.49 352.63v8.4M470.49 353.83l6 6M470.49 359.83l6 -6M470.38 358.1h8.4M474.58 353.9v8.4M471.58 355.1l6 6M471.58 361.1l6 -6M471.48 359.66h8.4M475.68 355.46v8.4M472.68 356.66l6 6M472.68 362.66l6 -6M472.57 360.99h8.4M476.77 356.79v8.4M473.77 357.99l6 6M473.77 363.99l6 -6M473.66 363.75h8.4M477.86 359.55v8.4M474.86 360.75l6 6M474.86 366.75l6 -6M474.75 364.73h8.4M478.95 360.53v8.4M475.95 361.73l6 6M475.95 367.73l6 -6M475.84 364.48h8.4M480.04 360.28v8.4M477.04 361.48l6 6M477.04 367.48l6 -6M476.93 365.46h8.4M481.13 361.26v8.4M478.13 362.46l6 6M478.13 368.46l6 -6M478.02 367.54h8.4M482.22 363.34v8.4M479.22 364.54l6 6M479.22 370.54l6 -6M479.11 367.59h8.4M483.31 363.39v8.4M480.31 364.59l6 6M480.31 370.59l6 -6M480.2 367.93h8.4M484.4 363.73v8.4M481.4 364.93l6 6M481.4 370.93l6 -6M481.3 368.76h8.4M485.5 364.56v8.4M482.5 365.76l6 6M482.5 371.76l6 -6M482.39 369.03h8.4M486.59 364.83v8.4M483.59 366.03l6 6M483.59 372.03l6 -6M483.48 370.17h8.4M487.68 365.97v8.4M484.68 367.17l6 6M484.68 373.17l6 -6M484.57 370.99h8.4M488.77 366.79v8.4M485.77 367.99l6 6M485.77 373.99l6 -6M485.66 371.16h8.4M489.86 366.96v8.4M486.86 368.16l6 6M486.86 374.16l6 -6M486.75 372.23h8.4M490.95 368.03v8.4M487.95 369.23l6 6M487.95 375.23l6 -6M487.84 371.45h8.4M492.04 367.25v8.4M489.04 368.45l6 6M489.04 374.45l6 -6M488.93 372.79h8.4M493.13 368.59v8.4M490.13 369.79l6 6M490.13 375.79l6 -6M490.02 373.91h8.4M494.22 369.71v8.4M491.22 370.91l6 6M491.22 376.91l6 -6M491.12 372.77h8.4M495.32 368.57v8.4M492.32 369.77l6 6M492.32 375.77l6 -6M492.21 373.74h8.4M496.41 369.54v8.4M493.41 370.74l6 6M493.41 376.74l6 -6M493.3 374.31h8.4M497.5 370.11v8.4M494.5 371.31l6 6M494.5 377.31l6 -6M494.39 374.08h8.4M498.59 369.88v8.4M495.59 371.08l6 6M495.59 377.08l6 -6M495.48 375.49h8.4M499.68 371.29v8.4M496.68 372.49l6 6M496.68 378.49l6 -6M496.57 374.91h8.4M500.77 370.71v8.4M497.77 371.91l6 6M497.77 377.91l6 -6M497.66 375.18h8.4M501.86 370.98v8.4M498.86 372.18l6 6M498.86 378.18l6 -6M498.75 376.21h8.4M502.95 372.01v8.4M499.95 373.21l6 6M499.95 379.21l6 -6M499.84 374.87h8.4M504.04 370.67v8.4M501.04 371.87l6 6M501.04 377.87l6 -6M500.94 376.66h8.4M505.14 372.46v8.4M502.14 373.66l6 6M502.14 379.66l6 -6M502.03 375.59h8.4M506.23 371.39v8.4M503.23 372.59l6 6M503.23 378.59l6 -6M503.12 376.29h8.4M507.32 372.09v8.4M504.32 373.29l6 6M504.32 379.29l6 -6M504.21 376.73h8.4M508.41 372.53v8.4M505.41 373.73l6 6M505.41 379.73l6 -6M505.3 376.96h8.4M509.5 372.76v8.4M506.5 373.96l6 6M506.5 379.96l6 -6"/>
<g fill="#23307a"><circle cx="405.7" cy="368.06" r="1.25"/><circle cx="408.98" cy="366.25" r="1.25"/><circle cx="412.26" cy="364.37" r="1.25"/><circle cx="415.55" cy="362.19" r="1.25"/><circle cx="418.83" cy="359.37" r="1.25"/><circle cx="422.11" cy="356.03" r="1.25"/><circle cx="424.3" cy="353.5" r="1.25"/><circle cx="425.3" cy="262.1" r="1.25"/><circle cx="426" cy="78.4" r="1.25"/><circle cx="426.8" cy="39.9" r="1.25"/><circle cx="428.6" cy="34.6" r="1.25"/><circle cx="430" cy="32.6" r="1.25"/><circle cx="431" cy="33.1" r="1.25"/><circle cx="432" cy="38" r="1.25"/><circle cx="433.4" cy="40.4" r="1.25"/><circle cx="434.4" cy="49.1" r="1.25"/><circle cx="435.4" cy="51.1" r="1.25"/><circle cx="437.3" cy="56.4" r="1.25"/><circle cx="438.6" cy="65.2" r="1.25"/><circle cx="440" cy="71.2" r="1.25"/><circle cx="441.7" cy="78.4" r="1.25"/><circle cx="442.9" cy="82" r="1.25"/><circle cx="444.8" cy="90.5" r="1.25"/><circle cx="447.3" cy="96.5" r="1.25"/><circle cx="447.9" cy="98" r="1.25"/><circle cx="449.2" cy="106" r="1.25"/><circle cx="452.5" cy="109.3" r="1.25"/><circle cx="452.8" cy="124" r="1.25"/><circle cx="450.8" cy="132" r="1.25"/><circle cx="453.3" cy="139.6" r="1.25"/><circle cx="455" cy="180.7" r="1.25"/><circle cx="455.5" cy="209.5" r="1.25"/><circle cx="456.9" cy="230.7" r="1.25"/><circle cx="458.1" cy="256.5" r="1.25"/><circle cx="459.3" cy="273.4" r="1.25"/><circle cx="460.5" cy="287.4" r="1.25"/><circle cx="462.78" cy="308.97" r="1.25"/><circle cx="465.06" cy="320.34" r="1.25"/><circle cx="467.34" cy="330.56" r="1.25"/><circle cx="469.62" cy="337.46" r="1.25"/><circle cx="471.9" cy="344.34" r="1.25"/><circle cx="474.17" cy="349.78" r="1.25"/><circle cx="476.45" cy="353.98" r="1.25"/><circle cx="478.73" cy="357.35" r="1.25"/><circle cx="481.01" cy="360.29" r="1.25"/><circle cx="483.29" cy="362.74" r="1.25"/><circle cx="485.57" cy="364.62" r="1.25"/><circle cx="487.85" cy="366.12" r="1.25"/><circle cx="490.13" cy="367.4" r="1.25"/><circle cx="492.41" cy="368.59" r="1.25"/><circle cx="494.69" cy="369.8" r="1.25"/><circle cx="496.97" cy="370.96" r="1.25"/><circle cx="499.24" cy="371.98" r="1.25"/><circle cx="501.52" cy="372.76" r="1.25"/><circle cx="503.8" cy="373.4" r="1.25"/><circle cx="506.08" cy="373.95" r="1.25"/><circle cx="508.36" cy="374.36" r="1.25"/></g>
<rect x="385.4" y="1.5" width="124.1" height="379.3" fill="none" stroke="#575757" stroke-width="1.5"/>
<path fill="none" stroke="#575757" stroke-width="1" d="M385.4 339.9h3.5M509.5 339.9h-3.5M385.4 284.15h3.5M509.5 284.15h-3.5M385.4 228.4h3.5M509.5 228.4h-3.5M385.4 172.65h3.5M509.5 172.65h-3.5M385.4 116.9h3.5M509.5 116.9h-3.5M385.4 61.15h3.5M509.5 61.15h-3.5M385.4 5.4h3.5M509.5 5.4h-3.5M386.88 380.8v-3.5M386.88 1.5v3.5M408.34 380.8v-3.5M408.34 1.5v3.5M429.8 380.8v-3.5M429.8 1.5v3.5M451.26 380.8v-3.5M451.26 1.5v3.5M472.72 380.8v-3.5M472.72 1.5v3.5M494.18 380.8v-3.5M494.18 1.5v3.5"/>
<text transform="translate(381.1,345.5) scale(1,1.02)" text-anchor="end">0.5</text>
<text transform="translate(381.1,289.75) scale(1,1.02)" text-anchor="end">1</text>
<text transform="translate(381.1,234) scale(1,1.02)" text-anchor="end">1.5</text>
<text transform="translate(381.1,178.25) scale(1,1.02)" text-anchor="end">2</text>
<text transform="translate(381.1,122.5) scale(1,1.02)" text-anchor="end">2.5</text>
<text transform="translate(381.1,66.75) scale(1,1.02)" text-anchor="end">3</text>
<text transform="translate(381.1,11) scale(1,1.02)" text-anchor="end">3.5</text>
<text transform="translate(386.18,399.9) scale(1,1.02)" text-anchor="middle">8.6</text>
<text transform="translate(429.8,399.9) scale(1,1.02)" text-anchor="middle">9</text>
<text transform="translate(473.82,399.9) scale(1,1.02)" text-anchor="middle">9.4</text>
<text transform="translate(501.2,416) scale(1,1.04)">(c)</text>
</g>
<text class="al" x="287.8" y="439" text-anchor="middle">Frequency (Hz)</text>
<text class="al" transform="translate(12.85,196.2) rotate(-90.7)" text-anchor="middle">Voltage output (V)</text>
</g>
</svg>
</body></html>
